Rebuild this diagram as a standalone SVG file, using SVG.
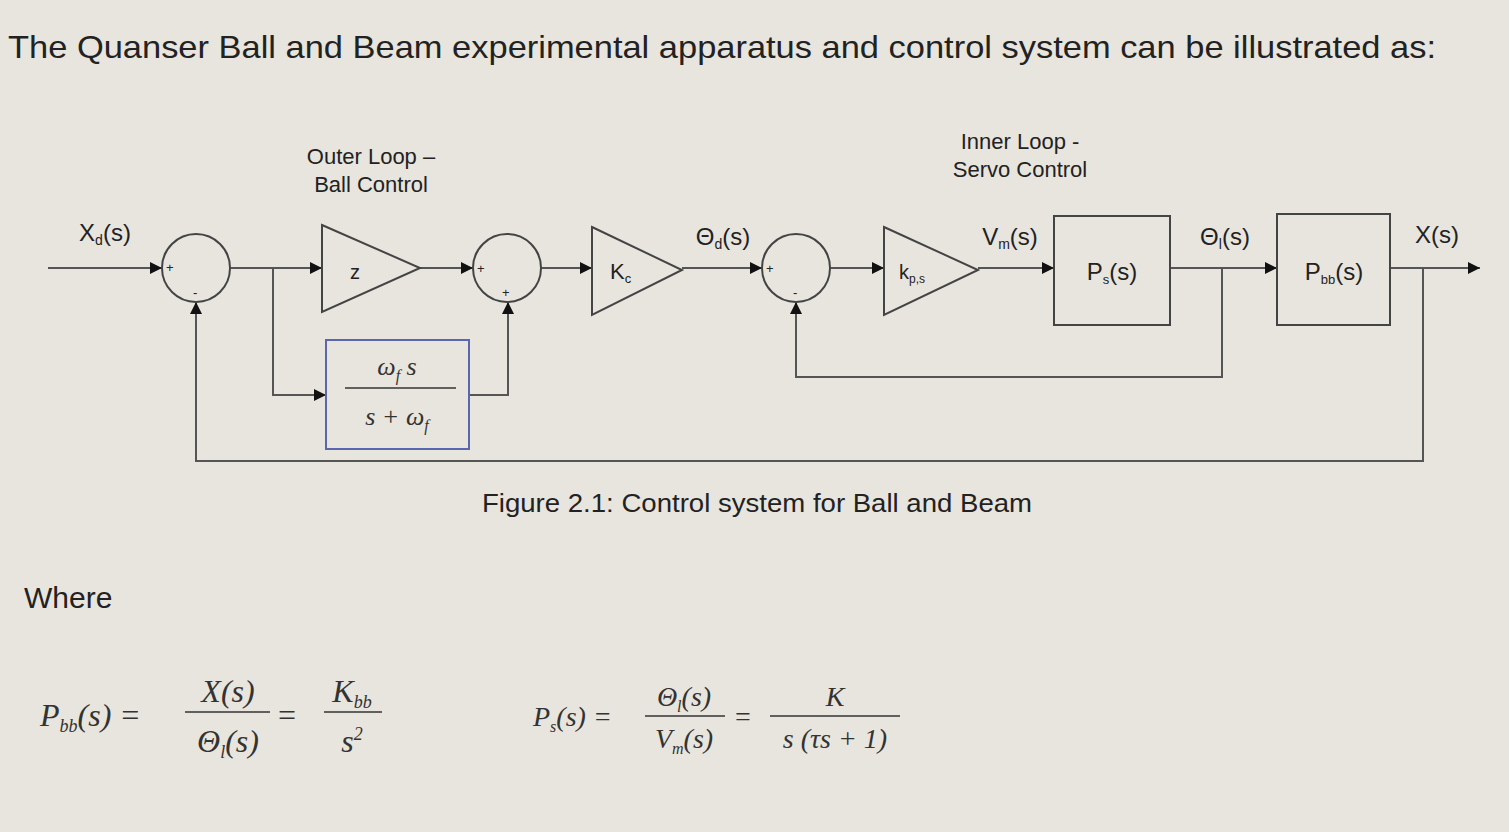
<svg xmlns="http://www.w3.org/2000/svg" width="1509" height="832" viewBox="0 0 1509 832">
<style>
.s{font-family:"Liberation Sans",Arial,sans-serif;fill:#222}
.m{font-family:"Liberation Serif","Times New Roman",serif;fill:#333}
.ln{stroke:#555;stroke-width:2;fill:none}
.nd{stroke:#444;stroke-width:2;fill:none}
</style>
<defs><marker id="a" viewBox="0 0 10 10" refX="10" refY="5" markerWidth="6" markerHeight="6" orient="auto"><path d="M0,0L10,5L0,10z" fill="#111"/></marker></defs>
<rect width="1509" height="832" fill="#e8e5de"/>
<text class="s" x="8" y="58" font-size="32" textLength="1428" lengthAdjust="spacingAndGlyphs">The Quanser Ball and Beam experimental apparatus and control system can be illustrated as:</text>
<g id="connectors" class="ln" marker-end="url(#a)">
<path d="M48,268H162"/>
<path d="M230,268H322"/>
<path d="M273,268V395H326"/>
<path d="M420,268H473"/>
<path d="M469,395H508V302"/>
<path d="M541,268H592"/>
<path d="M682,268H762"/>
<path d="M830,268H884"/>
<path d="M978,268H1054"/>
<path d="M1170,268H1277"/>
<path d="M1390,268H1480"/>
<path d="M1222,268V377H796V302"/>
<path d="M1423,268V461H196V302"/>
</g>
<g id="sum1"><circle class="nd" cx="196" cy="268" r="34"/><text class="s" x="166" y="272" font-size="13">+</text><text class="s" x="193" y="297" font-size="13">-</text></g>
<g id="z"><path class="nd" d="M322,225L420,268L322,312z"/><text class="s" x="350" y="279" font-size="20">z</text></g>
<g id="filter"><rect x="326" y="340" width="143" height="109" fill="none" stroke="#5a67b0" stroke-width="2"/><text class="m" x="397" y="375" font-size="26" font-style="italic" text-anchor="middle">ω<tspan font-size="16" dy="6">f</tspan><tspan dy="-6"> s</tspan></text><line x1="345" y1="388" x2="456" y2="388" stroke="#333" stroke-width="1.5"/><text class="m" x="397" y="425" font-size="26" font-style="italic" text-anchor="middle">s + ω<tspan font-size="16" dy="6">f</tspan></text></g>
<g id="sum2"><circle class="nd" cx="507" cy="268" r="34"/><text class="s" x="477" y="273" font-size="13">+</text><text class="s" x="502" y="297" font-size="13">+</text></g>
<g id="kc"><path class="nd" d="M592,227L682,270L592,315z"/><text class="s" x="610" y="279" font-size="22">K<tspan font-size="13" dy="4">c</tspan></text></g>
<g id="sum3"><circle class="nd" cx="796" cy="268" r="34"/><text class="s" x="766" y="273" font-size="13">+</text><text class="s" x="793" y="297" font-size="13">-</text></g>
<g id="kps"><path class="nd" d="M884,227L978,270L884,315z"/><text class="s" x="899" y="279" font-size="20">k<tspan font-size="12" dy="4">p,s</tspan></text></g>
<g id="ps"><rect class="nd" x="1054" y="216" width="116" height="109"/><text class="s" x="1112" y="280" font-size="24" text-anchor="middle">P<tspan font-size="13" dy="4">s</tspan><tspan dy="-4">(s)</tspan></text></g>
<g id="pbb"><rect class="nd" x="1277" y="214" width="113" height="111"/><text class="s" x="1334" y="280" font-size="24" text-anchor="middle">P<tspan font-size="13" dy="4">bb</tspan><tspan dy="-4">(s)</tspan></text></g>
<g id="labels" class="s">
<text x="105" y="241" font-size="24" text-anchor="middle">X<tspan font-size="14" dy="4">d</tspan><tspan dy="-4">(s)</tspan></text>
<text x="371" y="164" font-size="22" text-anchor="middle">Outer Loop –</text>
<text x="371" y="192" font-size="22" text-anchor="middle">Ball Control</text>
<text x="723" y="245" font-size="24" text-anchor="middle">Θ<tspan font-size="14" dy="4">d</tspan><tspan dy="-4">(s)</tspan></text>
<text x="1020" y="149" font-size="22" text-anchor="middle">Inner Loop -</text>
<text x="1020" y="177" font-size="22" text-anchor="middle">Servo Control</text>
<text x="1010" y="245" font-size="24" text-anchor="middle">V<tspan font-size="14" dy="4">m</tspan><tspan dy="-4">(s)</tspan></text>
<text x="1225" y="245" font-size="24" text-anchor="middle">Θ<tspan font-size="14" dy="4">l</tspan><tspan dy="-4">(s)</tspan></text>
<text x="1437" y="243" font-size="24" text-anchor="middle">X(s)</text>
<text x="482" y="512" font-size="26" textLength="550" lengthAdjust="spacingAndGlyphs">Figure 2.1: Control system for Ball and Beam</text>
<text x="24" y="608" font-size="30">Where</text>
</g>
<g id="eq1" class="m" font-size="32" font-style="italic">
<text x="40" y="726">P<tspan font-size="18" dy="6">bb</tspan><tspan dy="-6">(s) =</tspan></text>
<text x="228" y="702" text-anchor="middle">X(s)</text>
<line x1="185" y1="712" x2="270" y2="712" stroke="#333" stroke-width="1.5"/>
<text x="228" y="752" text-anchor="middle">Θ<tspan font-size="18" dy="6">l</tspan><tspan dy="-6">(s)</tspan></text>
<text x="278" y="726" font-style="normal">=</text>
<text x="352" y="702" text-anchor="middle">K<tspan font-size="18" dy="6">bb</tspan></text>
<line x1="324" y1="712" x2="382" y2="712" stroke="#333" stroke-width="1.5"/>
<text x="352" y="752" text-anchor="middle">s<tspan font-size="18" dy="-12">2</tspan></text>
</g>
<g id="eq2" class="m" font-size="28" font-style="italic">
<text x="533" y="726">P<tspan font-size="16" dy="6">s</tspan><tspan dy="-6">(s) =</tspan></text>
<text x="684" y="706" text-anchor="middle">Θ<tspan font-size="16" dy="6">l</tspan><tspan dy="-6">(s)</tspan></text>
<line x1="645" y1="716" x2="725" y2="716" stroke="#333" stroke-width="1.5"/>
<text x="684" y="748" text-anchor="middle">V<tspan font-size="16" dy="6">m</tspan><tspan dy="-6">(s)</tspan></text>
<text x="735" y="726" font-style="normal">=</text>
<text x="835" y="706" text-anchor="middle">K</text>
<line x1="770" y1="716" x2="900" y2="716" stroke="#333" stroke-width="1.5"/>
<text x="835" y="748" text-anchor="middle">s (τs + 1)</text>
</g>
</svg>
